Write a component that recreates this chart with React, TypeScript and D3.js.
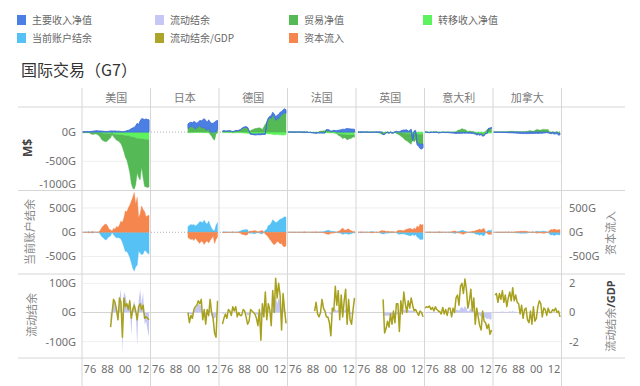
import React, { useEffect } from 'react';
import * as d3 from 'd3';

// ---- data (values in G$) ----
const COUNTRIES = ['美国', '日本', '德国', '法国', '英国', '意大利', '加拿大'];
const START_MAIN = [1971, 1996, 1973, 1971, 1972, 1971, 1971];
const START_LIQ = [1990, 1996, 1973, 1989, 1989, 1971, 1972];
const YEAR_TICKS = [1976, 1988, 2000, 2012];

const PRIMARY_INCOME = [
  [5, 6, 8, 10, 8, 10, 12, 15, 20, 22, 25, 20, 20, 18, 15, 12, 10, 12, 15, 20, 20, 18, 20, 15, 15, 15, 10, 5, 10, 15, 25, 30, 40, 60, 70, 80, 110, 150, 130, 190, 230, 225, 215, 225, 215, 210],
  [80, 80, 70, 70, 100, 120, 70, 80, 90, 110, 140, 140, 160, 120, 140, 170, 150, 150, 170, 190, 150],
  [3, 4, 3, 3, 3, 4, 5, 5, 3, 3, 4, 5, 6, 8, 8, 10, 12, 12, 10, -5, -8, -12, -15, -12, -14, -15, -18, -12, -15, -10, 10, 20, 30, 40, 50, 40, 60, 60, 70, 70, 60, 60, 70, 60],
  [1, 1, 1, 1, 1, 1, 1, 2, 2, 3, 2, 1, 0, 0, -1, -1, -1, -2, -1, -3, -4, -5, -4, -4, -3, -1, 3, 5, 10, 10, 12, 15, 18, 25, 30, 35, 40, 50, 45, 55, 60, 58, 55, 52, 50, 48],
  [2, 3, 3, 2, 2, 1, 1, 2, -1, -2, -1, 1, 2, 2, 3, 1, 2, -2, -5, -4, 1, -1, 1, -2, -2, 5, 15, 0, 5, 20, 30, 35, 35, 40, 15, 30, 50, -20, 20, 30, -30, -40, -70, -80, -70],
  [0, 0, -1, -1, -1, -1, -1, -1, 0, -1, -2, -3, -3, -4, -4, -5, -6, -8, -10, -12, -15, -18, -15, -15, -15, -12, -10, -10, -8, -10, -10, -12, -15, -15, -15, -15, -20, -15, -10, -10, -10, -5, -5, 5, 10, 15],
  [-1, -2, -2, -3, -3, -4, -5, -6, -7, -8, -10, -11, -12, -13, -15, -16, -18, -19, -22, -24, -24, -22, -24, -25, -24, -22, -23, -22, -21, -20, -22, -20, -18, -17, -15, -10, -8, -12, -15, -15, -18, -20, -22, -22, -25, -22],
];

const TRADE = [
  [-5, -10, -5, -6, -2, -14, -28, -33, -27, -22, -30, -48, -76, -114, -130, -138, -140, -125, -92, -70, -35, -45, -72, -100, -110, -125, -152, -210, -285, -370, -418, -515, -630, -800, -870, -895, -800, -590, -675, -705, -480, -660, -805, -815, -820, -810],
  [60, 80, 100, 90, 80, 50, 80, 90, 110, 80, 70, 90, 40, 40, 70, -30, -60, -110, -120, -20, 50],
  [15, 20, 15, 15, 18, 20, 10, 5, 12, 25, 22, 25, 35, 55, 70, 80, 80, 70, 15, 25, 40, 50, 60, 65, 70, 75, 65, 45, 90, 140, 160, 220, 240, 240, 290, 270, 200, 230, 230, 270, 290, 320, 330, 320],
  [1, 2, 1, -3, 1, -3, -1, 2, 0, -6, -5, -10, -4, -1, -1, 2, -3, -3, -5, -7, -2, 5, 18, 18, 22, 25, 38, 35, 25, 5, 10, 15, 10, -5, -25, -35, -50, -75, -55, -65, -90, -75, -60, -55, -35, -40],
  [-1, -5, -10, -6, -4, -2, 1, -3, 3, 6, 4, 0, -3, -2, -10, -15, -30, -35, -25, -10, -10, -10, -5, -5, -5, 0, -12, -22, -35, -55, -73, -92, -120, -128, -147, -165, -182, -102, -140, -98, -156, -165, -174, -174, -165],
  [1, 0, -3, -8, -1, -3, 0, 3, 1, -10, -7, -4, 0, -2, -3, 3, 0, -1, -1, 0, 0, 5, 30, 35, 45, 60, 50, 45, 30, 10, 20, 15, 10, 10, -5, -20, -5, -20, -10, -40, -30, 15, 45, 60, 60, 65],
  [2, 2, 2, 0, -1, 1, 3, 4, 4, 7, 6, 14, 14, 16, 12, 7, 8, 8, 4, 7, 5, 7, 9, 14, 22, 28, 15, 15, 25, 45, 45, 35, 35, 45, 50, 45, 45, 45, -5, -10, 5, -10, -5, 5, -25, -20],
];

const TRANSFERS = [
  [-5, -5, -5, -6, -6, -6, -7, -7, -8, -8, -10, -12, -14, -16, -20, -22, -25, -25, -28, -30, -10, -35, -38, -40, -40, -45, -48, -50, -55, -60, -62, -65, -70, -80, -90, -85, -100, -110, -105, -115, -120, -120, -125, -125, -130, -130],
  [-10, -10, -10, -12, -10, -8, -6, -8, -8, -7, -10, -11, -12, -11, -11, -10, -10, -9, -18, -17, -19],
  [-8, -8, -9, -9, -10, -11, -12, -14, -14, -13, -12, -12, -12, -14, -16, -18, -18, -22, -30, -32, -30, -32, -34, -34, -30, -30, -28, -27, -26, -28, -30, -32, -33, -34, -40, -44, -45, -42, -44, -45, -50, -52, -45, -48],
  [-1, -1, -1, -2, -2, -2, -2, -3, -3, -4, -4, -4, -4, -4, -5, -6, -6, -7, -8, -9, -8, -9, -10, -10, -12, -12, -13, -13, -14, -14, -15, -18, -22, -25, -30, -32, -35, -38, -40, -42, -45, -48, -50, -50, -48, -50],
  [-1, -1, -1, -1, -2, -2, -3, -3, -3, -3, -3, -3, -4, -4, -4, -5, -6, -7, -8, -2, -8, -8, -8, -10, -8, -10, -12, -13, -15, -15, -17, -18, -20, -22, -23, -25, -28, -28, -30, -32, -34, -35, -36, -36, -35],
  [-1, -1, -1, -1, -1, -1, -1, -1, -1, -1, -1, -1, -1, -1, -2, -2, -3, -3, -4, -5, -6, -6, -6, -6, -6, -7, -7, -8, -8, -8, -8, -9, -10, -12, -14, -15, -17, -20, -20, -20, -22, -22, -20, -20, -18, -18],
  [0, 0, 0, 0, 0, 0, 0, 0, 0, 0, 0, 0, 0, 0, 0, 0, 0, 0, -1, -1, -1, -1, -1, -1, -1, 0, 0, 0, 1, 1, 1, 0, 0, -1, -1, -1, -1, -1, -2, -3, -3, -3, -3, -3, -3, -3],
];

const CURRENT_ACCOUNT = [
  [-2, -6, 7, 2, 18, 4, -14, -15, -1, 2, 5, -5, -40, -90, -115, -145, -160, -120, -95, -75, 5, -50, -85, -120, -110, -120, -140, -210, -300, -400, -390, -450, -520, -630, -740, -800, -710, -680, -380, -430, -460, -450, -370, -390, -430, -450],
  [120, 140, 160, 150, 160, 130, 150, 180, 220, 210, 200, 250, 190, 170, 230, 150, 80, 40, 30, 150, 200],
  [5, 10, 5, 5, 5, 5, -5, -10, 0, 5, 5, 10, 20, 40, 45, 50, 55, 50, -20, -20, -15, -30, -30, -15, -10, -15, -30, -35, 0, 40, 60, 140, 150, 190, 260, 230, 200, 210, 240, 270, 280, 300, 320, 310],
  [1, 1, -1, -4, 1, -3, -1, 4, 4, -4, -5, -12, -5, -1, 0, 2, -4, -5, -5, -10, -6, 4, 9, 7, 11, 20, 35, 38, 40, 18, 20, 15, 10, 5, -10, -15, -25, -45, -30, -30, -30, -45, -30, -30, -10, -20],
  [0, -2, -8, -4, -2, 0, 2, -1, 7, 14, 8, 6, 2, 3, -2, -15, -30, -35, -30, -15, -20, -15, -10, -10, -10, 0, -10, -35, -40, -35, -35, -30, -45, -50, -60, -70, -70, -45, -70, -45, -100, -120, -150, -150, -140],
  [2, 2, -2, -8, -1, -3, 3, 6, 5, -10, -9, -6, 1, -2, -4, 2, -2, -6, -11, -16, -20, -25, 10, 15, 25, 40, 35, 20, 10, -5, 0, -10, -15, -15, -30, -45, -40, -65, -40, -70, -70, -10, 20, 40, 30, 50],
  [0, 0, 0, -4, -5, -4, -4, -4, -4, -2, -10, 2, -3, -3, -5, -12, -14, -16, -22, -20, -22, -21, -22, -13, -5, 3, -8, -8, 2, 19, 16, 13, 10, 23, 22, 18, 11, 1, -40, -58, -50, -65, -58, -43, -55, -50],
];

const CAPITAL_INFLOW = [
  [2, 6, -5, -2, -15, -3, 12, 14, 2, -2, -3, 5, 40, 100, 130, 160, 170, 130, 60, 50, 20, 80, 60, 120, 100, 150, 230, 200, 300, 440, 420, 500, 560, 640, 720, 820, 580, 720, 300, 380, 540, 470, 430, 320, 340, 350],
  [-110, -130, -150, -140, -170, -120, -160, -200, -230, -180, -200, -250, -200, -180, -220, -170, -130, -80, -230, -150, -100],
  [-5, -8, -6, -4, -6, -5, 3, 10, -2, -5, -6, -10, -18, -40, -45, -55, -60, -45, 15, 25, 20, 30, 35, 20, 10, 15, 30, 35, 5, -40, -60, -100, -150, -180, -230, -260, -230, -190, -200, -240, -230, -290, -300, -280],
  [-1, -1, 1, 4, -1, 3, 1, -4, -4, 4, 5, 12, 5, 1, 0, -2, 4, 5, 5, 10, 6, -4, -9, -7, -11, -20, -35, -40, -40, -15, -20, -15, -10, 0, 20, 30, 60, 90, 50, 40, 60, 70, 40, 30, 10, 20],
  [0, 2, 8, 4, 2, 0, -2, 1, -7, -14, -8, -6, -2, -3, 2, 20, 35, 30, 30, 15, 20, 15, 10, 10, 15, -5, 10, 35, 40, 40, 35, 30, 50, 60, 70, 80, 70, 50, 90, 60, 130, 100, 170, 150, 160],
  [-2, -2, 2, 8, 1, 3, -3, -6, -5, 10, 9, 6, -1, 2, 4, -2, 2, 6, 11, 20, 25, 20, -10, -15, -20, -35, -40, -25, -10, 5, 0, 10, 20, 20, 30, 40, 50, 65, 45, 70, 75, 10, -20, -45, -40, -45],
  [0, 0, 0, 4, 5, 4, 4, 4, 4, 2, 10, -2, 3, 3, 5, 12, 14, 16, 22, 20, 22, 21, 22, 13, 5, -3, 8, 8, -2, -19, -16, -13, -10, -23, -22, -18, -11, -1, 40, 58, 50, 65, 58, 43, 55, 50],
];

const LIQUIDITY = [
  [-30, 0, 40, 30, 10, -20, 50, 80, -145, 70, 60, 30, 20, 50, -80, 20, 40, 10, -115, 40, 80, 30, 70, -40, -30, -60, -85],
  [0, -5, -5, -10, 5, 15, 20, 30, 25, 25, -10, 5, -25, 5, -20, 20, -10, -20, -20, -15, 10],
  [-5, -3, 0, -3, 2, 1, -2, 3, 1, 3, -2, 0, -2, -2, 2, 1, -3, -10, -8, 3, 1, 0, -1, -5, -10, 2, -20, 5, -3, 15, -5, 8, 3, -15, 30, 0, 60, 30, 50, 35, -20, 30, 5, -10],
  [0, 2, 0, -1, 0, 3, 1, 0, -2, -1, -3, -8, 2, 1, 12, 4, 12, -3, 10, -2, 6, 12, -5, 5, -4, -6, 1, 5],
  [0, -10, -12, -10, -12, -5, -10, -3, -10, -5, -5, -12, 3, -2, 10, 8, 5, 10, 5, 8, 5, 2, 3, 0, -3, 0, 0, -5],
  [2, 2, 2, 3, 1, 2, 1, 2, 1, 1, 0, -1, 2, -1, 1, -1, 2, 2, -2, 2, 0, 8, 10, 5, 15, 20, 12, 22, 15, 3, 8, 15, 1, 8, -8, 3, -3, -10, -15, -5, -15, -18, -22, -20, -25, -22],
  [3, 3, 2, 3, 2, 4, 2, 3, 1, 3, 4, 2, 5, 2, 3, 2, 2, 0, 1, -1, 0, 1, -1, -2, 0, -2, 1, -2, -1, 1, 2, 2, -1, 1, 1, -1, 1, 0, 0, 1, 0, 1, 0, 0, -1],
];

const LIQUIDITY_GDP = [
  [-1.0, 0.0, 0.9, 0.7, 0.2, -0.5, 1.0, 0.7, -1.7, 1.0, 0.4, 0.6, 0.2, 0.8, -0.4, 0.2, 0.5, 0.1, -0.5, 0.4, 0.6, 0.2, 0.5, -0.4, -0.3, -0.4, -0.5],
  [0.0, -0.7, -0.2, -0.4, 0.2, 0.4, 0.5, 0.8, 0.6, 0.9, -0.5, 0.2, -0.8, 0.2, -0.2, 0.9, 0.0, -0.4, -1.4, -1.7, 0.8],
  [-0.8, -0.4, -0.1, -0.4, 0.2, 0.1, -0.2, 0.4, 0.1, 0.4, -0.3, 0.0, -0.2, -0.2, 0.2, 0.1, -0.3, -0.8, -0.6, 0.2, 0.1, 0.0, -0.1, -0.4, -0.9, 0.2, -1.9, 0.6, -0.3, 1.4, -0.5, 0.6, 0.2, -0.9, 1.5, 0.0, 2.35, 1.0, 2.0, 1.2, -1.2, 1.3, 0.2, -0.75],
  [0.1, 0.7, -0.1, -0.3, 0.0, 0.9, 0.3, 0.1, -0.3, -0.3, -0.7, -1.6, 0.3, 0.1, 1.8, 0.5, 1.5, -0.5, 1.2, -0.3, 0.8, 1.6, -0.8, 0.9, -0.5, -0.8, 0.2, 1.0],
  [0.9, -1.4, -1.1, -0.6, -1.0, -0.1, -0.8, 0.1, -0.7, 0.6, 0.6, -1.3, 0.8, -0.1, 1.4, 0.6, 0.0, 0.8, 0.3, 1.0, 0.5, 0.1, 0.2, 0.0, -0.2, 0.1, 0.0, -0.3],
  [0.3, 0.4, 0.35, 0.45, 0.2, 0.35, 0.1, 0.4, 0.2, 0.1, 0.05, -0.1, 0.35, -0.1, 0.2, -0.2, 0.3, 0.3, -0.3, 0.3, 0.0, 1.0, 1.2, 0.5, 1.8, 2.0, 1.3, 2.3, 1.6, 0.3, 0.8, 1.6, 0.1, 1.0, -0.8, 0.3, -0.3, -0.9, -1.2, 0.1, -0.6, -0.7, -1.1, -0.8, -1.5, -1.2],
  [1.2, 1.3, 0.7, 1.3, 0.9, 1.5, 0.7, 1.2, 0.4, 1.0, 1.4, 0.8, 1.7, 0.8, 1.2, 0.7, 0.6, -0.1, 0.5, -0.4, 0.2, 0.3, -0.5, -0.7, 0.1, -0.8, 0.4, -0.6, -0.4, 0.4, 0.8, 0.6, -0.3, 0.3, 0.2, -0.2, 0.3, 0.0, 0.0, 0.2, 0.1, 0.3, 0.0, 0.1, -0.3],
];

const LEGEND = [
  { label: '主要收入净值', color: '#4c7fe3', col: 0, row: 0 },
  { label: '流动结余', color: '#c5c7f4', col: 1, row: 0 },
  { label: '贸易净值', color: '#55b955', col: 2, row: 0 },
  { label: '转移收入净值', color: '#5ef25e', col: 3, row: 0 },
  { label: '当前账户结余', color: '#55c1f4', col: 0, row: 1 },
  { label: '流动结余/GDP', color: '#ada529', col: 1, row: 1 },
  { label: '资本流入', color: '#f5864e', col: 2, row: 1 },
];

const C = {
  primary: '#4c7fe3',
  trade: '#55b955',
  transfer: '#5ef25e',
  ca: '#55c1f4',
  ci: '#f5864e',
  liq: '#c5c7f4',
  gdp: '#a8a11e',
};

const FONT = '"Noto Sans", "Noto Sans CJK SC", sans-serif';
const CJK = '"Noto Sans CJK SC", "Noto Sans", sans-serif';
const COL_X0 = 82;
const COL_W = 68.5;
const LINE = '#d6d6d6';

export default function App() {
  useEffect(() => {
    document.body.style.margin = '0';
  }, []);

  const yMain = d3.scaleLinear().domain([-1000, 430]).range([190.5, 107]);
  const yAcct = d3.scaleLinear().domain([-860, 860]).range([274, 190.5]);
  const yLiq = d3.scaleLinear().domain([-156, 132]).range([358, 274]);
  const yGdp = d3.scaleLinear().domain([-3.12, 2.64]).range([358, 274]);

  const legendX = [17, 155, 289, 423];

  const panels = COUNTRIES.map((name, i) => {
    const cx = COL_X0 + i * COL_W;
    const x = d3.scaleLinear().domain([1971, 2017]).range([cx + 0.5, cx + COL_W]);

    const mainRows = PRIMARY_INCOME[i].map((v, k) => ({
      year: START_MAIN[i] + k,
      primary: v,
      trade: TRADE[i][k],
      transfer: TRANSFERS[i][k],
    }));
    // diverging stack: positives pile up, negatives pile down
    const stacked = d3
      .stack<any>()
      .keys(['transfer', 'trade', 'primary'])
      .offset(d3.stackOffsetDiverging)(mainRows);
    const stackArea = d3
      .area<any>()
      .x((d) => x(d.data.year))
      .y0((d) => yMain(d[0]))
      .y1((d) => yMain(d[1]));

    const acctArea = (vals: number[]) =>
      d3
        .area<number>()
        .x((_, k) => x(START_MAIN[i] + k))
        .y0(yAcct(0))
        .y1((d) => yAcct(d))(vals);

    const liqArea = d3
      .area<number>()
      .x((_, k) => x(START_LIQ[i] + k))
      .y0(yLiq(0))
      .y1((d) => yLiq(d))(LIQUIDITY[i]);
    const gdpLine = d3
      .line<number>()
      .x((_, k) => x(START_LIQ[i] + k))
      .y((d) => yGdp(d))(LIQUIDITY_GDP[i]);

    const colors: Record<string, string> = { transfer: C.transfer, trade: C.trade, primary: C.primary };

    return (
      <g key={name}>
        <text x={cx + COL_W / 2} y={102} textAnchor="middle" fontSize={11} fill="#7a7a7a" fontFamily={CJK}>
          {name}
        </text>
        {stacked.map((s) => (
          <path
            key={s.key}
            d={stackArea(s) || ''}
            fill={colors[s.key]}
            stroke={s.key === 'primary' ? '#3f6fd6' : colors[s.key]}
            strokeWidth={s.key === 'primary' ? 0.9 : 0.4}
          />
        ))}
        <path d={acctArea(CURRENT_ACCOUNT[i]) || ''} fill={C.ca} stroke={C.ca} strokeWidth={0.4} />
        <path d={acctArea(CAPITAL_INFLOW[i]) || ''} fill={C.ci} stroke={C.ci} strokeWidth={0.4} />
        <path d={liqArea || ''} fill={C.liq} />
        <path d={gdpLine || ''} fill="none" stroke={C.gdp} strokeWidth={1.5} strokeLinejoin="round" />
        {YEAR_TICKS.map((yr) => (
          <text key={yr} x={x(yr)} y={373} textAnchor="middle" fontSize={11} fill="#707070" fontFamily={FONT}>
            {String(yr % 100).padStart(2, '0')}
          </text>
        ))}
      </g>
    );
  });

  const leftTicks = (
    scale: d3.ScaleLinear<number, number>,
    vals: number[],
    bottom: number,
    fmt: (v: number) => string
  ) =>
    vals.map((v) => (
      <text
        key={v}
        x={76}
        y={Math.min(scale(v), bottom - 6)}
        dy="0.35em"
        textAnchor="end"
        fontSize={11}
        fill="#707070"
        fontFamily={FONT}
      >
        {fmt(v)}
      </text>
    ));

  const gFmt = (v: number) => `${v}G`;
  const gridX1 = COL_X0;
  const gridX2 = COL_X0 + 7 * COL_W;

  return (
    <svg width={640} height={386} style={{ display: 'block', background: '#fff' }}>
      {/* legend */}
      {LEGEND.map((l) => (
        <g key={l.label} transform={`translate(${legendX[l.col]},${l.row === 0 ? 15 : 33})`}>
          <rect width={9} height={10} fill={l.color} />
          <text x={15} y={9} fontSize={10} fill="#666" fontFamily={CJK}>
            {l.label}
          </text>
        </g>
      ))}
      <text x={21} y={76} fontSize={16} fill="#333" fontFamily={CJK}>
        国际交易（G7）
      </text>

      {/* grid */}
      {[-500].map((v) => (
        <line key={'m' + v} x1={gridX1} x2={gridX2} y1={yMain(v)} y2={yMain(v)} stroke="#efefef" />
      ))}
      {[-500, 500].map((v) => (
        <line key={'a' + v} x1={gridX1} x2={gridX2} y1={yAcct(v)} y2={yAcct(v)} stroke="#efefef" />
      ))}
      {[-100, 100].map((v) => (
        <line key={'l' + v} x1={gridX1} x2={gridX2} y1={yLiq(v)} y2={yLiq(v)} stroke="#efefef" />
      ))}
      <line x1={gridX1} x2={gridX2} y1={yMain(0)} y2={yMain(0)} stroke="#b0b0b0" strokeDasharray="1,2" />
      <line x1={gridX1} x2={gridX2} y1={yAcct(0)} y2={yAcct(0)} stroke="#b0b0b0" strokeDasharray="1,2" />
      <line x1={gridX1} x2={gridX2} y1={yLiq(0)} y2={yLiq(0)} stroke="#d4d4d4" />

      {panels}

      {/* frame */}
      {[107, 190.5, 274, 358].map((y) => (
        <line key={y} x1={18} x2={625} y1={y} y2={y} stroke={LINE} />
      ))}
      {d3.range(8).map((k) => (
        <line key={k} x1={COL_X0 + k * COL_W} x2={COL_X0 + k * COL_W} y1={88} y2={386} stroke={LINE} />
      ))}

      {/* left axes */}
      {leftTicks(yMain, [0, -500, -1000], 190.5, gFmt)}
      {leftTicks(yAcct, [500, 0, -500], 274, gFmt)}
      {leftTicks(yLiq, [100, 0, -100], 358, gFmt)}

      {/* right axes */}
      {[500, 0, -500].map((v) => (
        <text key={'r' + v} x={569} y={yAcct(v)} dy="0.35em" fontSize={11} fill="#707070" fontFamily={FONT}>
          {gFmt(v)}
        </text>
      ))}
      {[2, 0, -2].map((v) => (
        <text key={'g' + v} x={569} y={yGdp(v)} dy="0.35em" fontSize={11} fill="#707070" fontFamily={FONT}>
          {v}
        </text>
      ))}

      {/* axis titles */}
      <text transform="translate(32,148) rotate(-90)" textAnchor="middle" fontSize={12} fontWeight="bold" fill="#444" fontFamily={FONT}>
        M$
      </text>
      <text transform="translate(34,232) rotate(-90)" textAnchor="middle" fontSize={11} fill="#888" fontFamily={CJK}>
        当前账户结余
      </text>
      <text transform="translate(36,315) rotate(-90)" textAnchor="middle" fontSize={11} fill="#888" fontFamily={CJK}>
        流动结余
      </text>
      <text transform="translate(615,233) rotate(-90)" textAnchor="middle" fontSize={11} fill="#888" fontFamily={CJK}>
        资本流入
      </text>
      <text transform="translate(615,316) rotate(-90)" textAnchor="middle" fontSize={11} fill="#888" fontFamily={CJK}>
        流动结余<tspan fontWeight="bold" fill="#444" fontFamily={FONT}>/GDP</tspan>
      </text>
    </svg>
  );
}
